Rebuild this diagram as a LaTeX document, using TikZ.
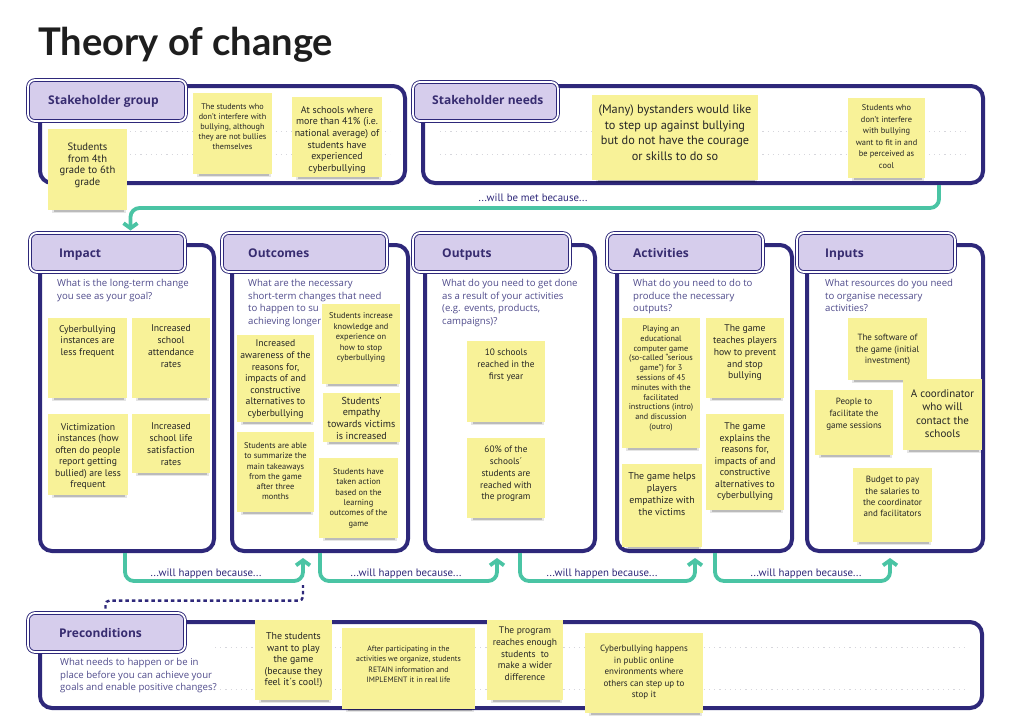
\documentclass[tikz,border=0pt]{standalone}
\usepackage{fontspec}
\setmainfont{Open Sans}
\newfontfamily\stickyfont{PT Sans}
\newfontfamily\titlefont{Lato}
\usetikzlibrary{arrows.meta,fit,calc}
\definecolor{navy}{RGB}{46,40,122}
\definecolor{lavender}{RGB}{214,205,236}
\definecolor{headtext}{RGB}{55,44,112}
\definecolor{qtext}{RGB}{80,76,140}
\definecolor{stickyc}{RGB}{248,242,152}
\definecolor{tealc}{RGB}{74,196,164}
\definecolor{guidec}{RGB}{214,214,220}
\definecolor{titlec}{RGB}{30,30,30}
\tikzset{
 frame/.style={draw=navy, line width=4pt, rounded corners=12pt, fill=white, inner sep=0pt},
 tabbox/.style={draw=navy, line width=0.9pt, double=white, double distance=1.8pt, fill=lavender, rounded corners=7pt, inner sep=0pt},
 tabtext/.style={anchor=base west, inner sep=0pt, text=headtext, font=\bfseries\fontsize{12}{14}\selectfont},
 question/.style={anchor=north west, inner sep=0pt, align=left, text=qtext, font=\fontsize{9.6}{12.7}\selectfont},
 stickybox/.style={fill=stickyc, draw=none, inner sep=0pt},
 stickytext/.style={inner sep=0pt, align=center, text=black!85},
 conn/.style={draw=tealc, line width=3.8pt, rounded corners=9pt, -{Straight Barb[length=5pt,width=14pt]}},
 connlabel/.style={anchor=base, inner sep=0pt, text=navy, font=\stickyfont\fontsize{10.8}{12}\selectfont},
 dots/.style={draw=navy, line width=2.4pt, dash pattern=on 3.5pt off 3pt, rounded corners=4pt},
 guide/.style={draw=guidec, line width=0.7pt, dash pattern=on 1.2pt off 4pt},
}
% name, x, y, w, h, fontsize, leading, first line centre y, text
\newcommand\pnote[9]{%
  \fill[black, opacity=0.10] (#2+4,#3+#5-2) rectangle (#2+#4-1,#3+#5+3);
  \fill[black, opacity=0.18] (#2+6,#3+#5-1) rectangle (#2+#4-3,#3+#5+1.5);
  \node[stickybox, fit={(#2,#3)(#2+#4,#3+#5)}] (#1) {};
  \node[stickytext, anchor=north, font={\stickyfont\fontsize{#6}{#7}\selectfont}] (#1t) at (#2+#4/2,#8-0.42*#6) {#9};
}
\begin{document}
\begin{tikzpicture}[x=1pt,y=-1pt]
\useasboundingbox (0,0) rectangle (1024,724);
\fill[white] (0,0) rectangle (1024,724);

% title
\node[anchor=base west, inner sep=0pt, text=titlec] (title) at (38,55) {\resizebox{295pt}{!}{\titlefont\bfseries Theory of change}};

% frames
\node[frame, fit={(40,86)(405,183)}] (sgF) {};
\node[frame, fit={(423,86)(983,183)}] (snF) {};
\node[frame, fit={(40,245)(214,551)}] (impF) {};
\node[frame, fit={(232,245)(408,551)}] (ocF) {};
\node[frame, fit={(425,245)(595,551)}] (opF) {};
\node[frame, fit={(617,245)(792,551)}] (acF) {};
\node[frame, fit={(807,245)(983,551)}] (inF) {};
\node[frame, fit={(40,622)(982,708)}] (prF) {};

% faint guide lines
\draw[guide] (130,131) -- (390,131);
\draw[guide] (130,154) -- (390,154);
\draw[guide] (440,131) -- (970,131);
\draw[guide] (440,154) -- (970,154);
\draw[guide] (215,647) -- (965,647);
\draw[guide] (215,689) -- (965,689);

% tabs
\node[tabbox, fit={(28,80)(186,121)}] (sgT) {};
\node[tabbox, fit={(413,82)(558,121)}] (snT) {};
\node[tabbox, fit={(30,233)(185,272)}] (impT) {};
\node[tabbox, fit={(222,233)(387,272)}] (ocT) {};
\node[tabbox, fit={(413,233)(570,272)}] (opT) {};
\node[tabbox, fit={(607,233)(763,272)}] (acT) {};
\node[tabbox, fit={(797,233)(955,272)}] (inT) {};
\node[tabbox, fit={(28,613)(185,652)}] (prT) {};

\node[tabtext] (sgL) at (48,104.5) {Stakeholder group};
\node[tabtext] (snL) at (432,104.5) {Stakeholder needs};
\node[tabtext] (impL) at (59,257) {Impact};
\node[tabtext] (ocL) at (248,257) {Outcomes};
\node[tabtext] (opL) at (442,257) {Outputs};
\node[tabtext] (acL) at (633,257) {Activities};
\node[tabtext] (inL) at (825,257) {Inputs};
\node[tabtext] (prL) at (59,637) {Preconditions};

% questions
\node[question] (impQ) at (57,279) {What is the long-term change\\you see as your goal?};
\node[question] (ocQ) at (248,279) {What are the necessary\\short-term changes that need\\to happen to su\\achieving longer};
\node[question] (opQ) at (442,279) {What do you need to get done\\as a result of your activities\\(e.g. events, products,\\campaigns)?};
\node[question] (acQ) at (633,279) {What do you need to do to\\produce the necessary\\outputs?};
\node[question] (inQ) at (825,279) {What resources do you need\\to organise necessary\\activities?};
\node[question] (prQ) at (60,658) {What needs to happen or be in\\place before you can achieve your\\goals and enable positive changes?};

% stakeholder stickies
\pnote{s1}{48}{129}{79}{81}{10.6}{11.7}{147}{Students\\from 4th\\grade to 6th\\grade}
\pnote{s2}{193}{93}{79}{81}{8.2}{10}{107}{The students who\\don’t interfere with\\bullying, although\\they are not bullies\\themselves}
\pnote{s3}{292}{97}{90}{80}{9.9}{11.7}{110}{At schools where\\more than 41\% (i.e.\\national average) of\\students have\\experienced\\cyberbullying}
\pnote{s4}{592}{95}{166}{85}{12.3}{15.5}{110}{(Many) bystanders would like\\to step up against bullying\\but do not have the courage\\or skills to do so}
\pnote{s5}{848}{98}{77}{80}{8.4}{11.5}{108}{Students who\\don’t interfere\\with bullying\\want to fit in and\\be perceived as\\cool}

% impact
\pnote{i1}{48}{318}{79}{80}{9.7}{11.7}{329}{Cyberbullying\\instances are\\less frequent}
\pnote{i2}{132}{318}{78}{80}{9.7}{11.7}{329}{Increased\\school\\attendance\\rates}
\pnote{i3}{48}{414}{80}{81}{9.7}{11.5}{427}{Victimization\\instances (how\\often do people\\report getting\\bullied) are less\\frequent}
\pnote{i4}{132}{414}{78}{59}{9.7}{11.7}{427}{Increased\\school life\\satisfaction\\rates}

% outcomes
\pnote{o1}{322}{304}{78}{80}{8.4}{10.5}{316}{Students increase\\knowledge and\\experience on\\how to stop\\cyberbullying}
\pnote{o2}{237}{335}{77}{87}{9.7}{11.6}{344}{Increased\\awareness of the\\reasons for,\\impacts of and\\constructive\\alternatives to\\cyberbullying}
\pnote{o3}{323}{393}{77}{49}{10.1}{11.7}{401}{Students’\\empathy\\towards victims\\is increased}
\pnote{o4}{237}{432}{77}{80}{8.4}{10.2}{446}{Students are able\\to summarize the\\main takeaways\\from the game\\after three\\months}
\pnote{o5}{319}{458}{79}{80}{8.4}{10.3}{472}{Students have\\taken action\\based on the\\learning\\outcomes of the\\game}

% outputs
\pnote{p1}{467}{341}{78}{81}{9.3}{11.7}{353}{10 schools\\reached in the\\first year}
\pnote{p2}{467}{438}{78}{80}{9.3}{11.7}{450}{60\% of the\\schools´\\students are\\reached with\\the program}

% activities
\pnote{a1}{622}{318}{78}{130}{8.2}{9.8}{329}{Playing an\\educational\\computer game\\(so-called “serious\\game”) for 3\\sessions of 45\\minutes with the\\facilitated\\instructions (intro)\\and discussion\\(outro)}
\pnote{a2}{706}{318}{78}{80}{9.7}{11.7}{329}{The game\\teaches players\\how to prevent\\and stop\\bullying}
\pnote{a3}{622}{464}{80}{83}{9.9}{11.7}{477}{The game helps\\players\\empathize with\\the victims}
\pnote{a4}{706}{414}{78}{96}{9.7}{11.5}{427}{The game\\explains the\\reasons for,\\impacts of and\\constructive\\alternatives to\\cyberbullying}

% inputs
\pnote{n1}{848}{318}{79}{62}{9}{11.5}{338}{The software of\\the game (initial\\investment)}
\pnote{n2}{815}{390}{78}{65}{9}{12}{402}{People to\\facilitate the\\game sessions}
\pnote{n3}{903}{379}{79}{71}{11}{13.3}{394}{A coordinator\\who will\\contact the\\schools}
\pnote{n4}{853}{468}{79}{74}{9}{11.3}{480}{Budget to pay\\the salaries to\\the coordinator\\and facilitators}

% preconditions
\pnote{c1}{255}{620}{77}{80}{9.9}{11.5}{637}{The students\\want to play\\the game\\(because they\\feel it´s cool!)}
\pnote{c2}{342}{628}{133}{81}{7.8}{10.3}{649}{After participating in the\\activities we organize, students\\RETAIN information and\\IMPLEMENT it in real life}
\pnote{c3}{487}{620}{76}{80}{9.5}{11.7}{631}{The program\\reaches enough\\students\ \ to\\make a wider\\difference}
\pnote{c4}{585}{633}{118}{80}{9}{11.5}{649}{Cyberbullying happens\\in public online\\environments where\\others can step up to\\stop it}

% connectors
\draw[conn] ($(snF.south east)+(-46,0)$) -- ++(0,23) -| ($(impT.north)+(23,-2)$);
\node[connlabel] (metL) at (533,201) {...will be met because...};

\draw[conn] ($(impF.south)+(-2,0)$) -- ++(0,28) -| ($(ocF.south)+(-17,5)$);
\draw[conn] ($(ocF.south)+(0,0)$) -- ++(0,28) -| ($(opF.south)+(-13,5)$);
\draw[conn] ($(opF.south)+(10,0)$) -- ++(0,28) -| ($(acF.south)+(-9.5,5)$);
\draw[conn] ($(acF.south)+(10.5,0)$) -- ++(0,28) -| ($(inF.south)+(-5,5)$);
\node[connlabel] (h1) at (206,576) {...will happen because...};
\node[connlabel] (h2) at (406,576) {...will happen because...};
\node[connlabel] (h3) at (602,576) {...will happen because...};
\node[connlabel] (h4) at (806,576) {...will happen because...};

\coordinate (dotEnd) at ($(ocF.south)+(-17,32)$);
\draw[dots] ($(prT.north)+(-1,-4)$) -- ++(0,-8) -| (dotEnd);
\end{tikzpicture}
\end{document}
